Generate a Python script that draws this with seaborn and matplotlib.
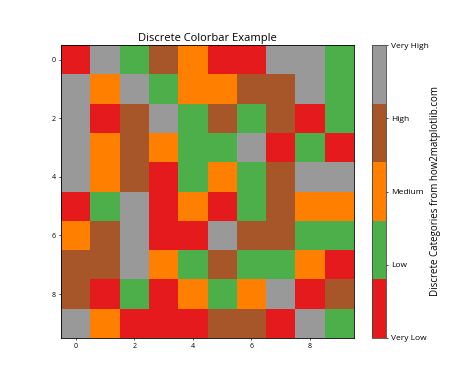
import numpy as np
import seaborn as sns
import matplotlib.pyplot as plt
from matplotlib.colors import ListedColormap

# category codes: 0 Very Low, 1 Low, 2 Medium, 3 High, 4 Very High
grid = [
    [0, 4, 1, 3, 2, 0, 0, 4, 4, 1],
    [4, 2, 4, 1, 2, 2, 3, 3, 4, 1],
    [4, 0, 3, 4, 1, 3, 1, 3, 0, 1],
    [4, 2, 3, 2, 1, 1, 4, 0, 1, 0],
    [4, 2, 3, 0, 1, 2, 1, 3, 4, 4],
    [0, 1, 4, 0, 2, 0, 1, 3, 2, 2],
    [2, 3, 4, 0, 0, 4, 3, 3, 1, 1],
    [3, 3, 4, 2, 1, 3, 1, 1, 2, 0],
    [3, 0, 1, 0, 2, 1, 2, 4, 0, 3],
    [4, 2, 0, 0, 0, 3, 3, 0, 4, 1],
]
category_labels = ["Very Low", "Low", "Medium", "High", "Very High"]
category_colors = ["#e41a1c", "#4daf4a", "#ff7f00", "#a65628", "#999999"]
tick_values = [0, 2, 4, 6, 8]

plt.rcParams["font.family"] = ["Open Sans", "DejaVu Sans"]

fig = plt.figure(figsize=(4.74, 3.79), dpi=100)
ax = fig.add_axes([61 / 474, 41 / 379, 293 / 474, 293 / 379])
cax = fig.add_axes([372 / 474, 41 / 379, 14 / 474, 293 / 379])

cmap = ListedColormap(category_colors)
sns.heatmap(np.array(grid), cmap=cmap, vmin=0, vmax=4, ax=ax, cbar_ax=cax,
            square=False, xticklabels=False, yticklabels=False)

ax.set_xticks([t + 0.5 for t in tick_values])
ax.set_xticklabels(tick_values)
ax.set_yticks([t + 0.5 for t in tick_values])
ax.set_yticklabels(tick_values, rotation=0)
ax.tick_params(labelsize=5, length=1.7, width=0.5, pad=2)
for spine in ax.spines.values():
    spine.set_visible(True)
    spine.set_linewidth(0.6)
ax.set_title("Discrete Colorbar Example", fontsize=8, pad=3)

cbar = ax.collections[0].colorbar
cbar.set_ticks(range(len(category_labels)))
cbar.set_ticklabels(category_labels)
cbar.outline.set_linewidth(0.6)
cbar.outline.set_edgecolor("#444444")
cax.tick_params(labelsize=6, length=1.7, width=0.5, pad=2)
cbar.set_label("Discrete Categories from how2matplotlib.com", fontsize=7, labelpad=1)

fig.savefig("out.png", dpi=100)
